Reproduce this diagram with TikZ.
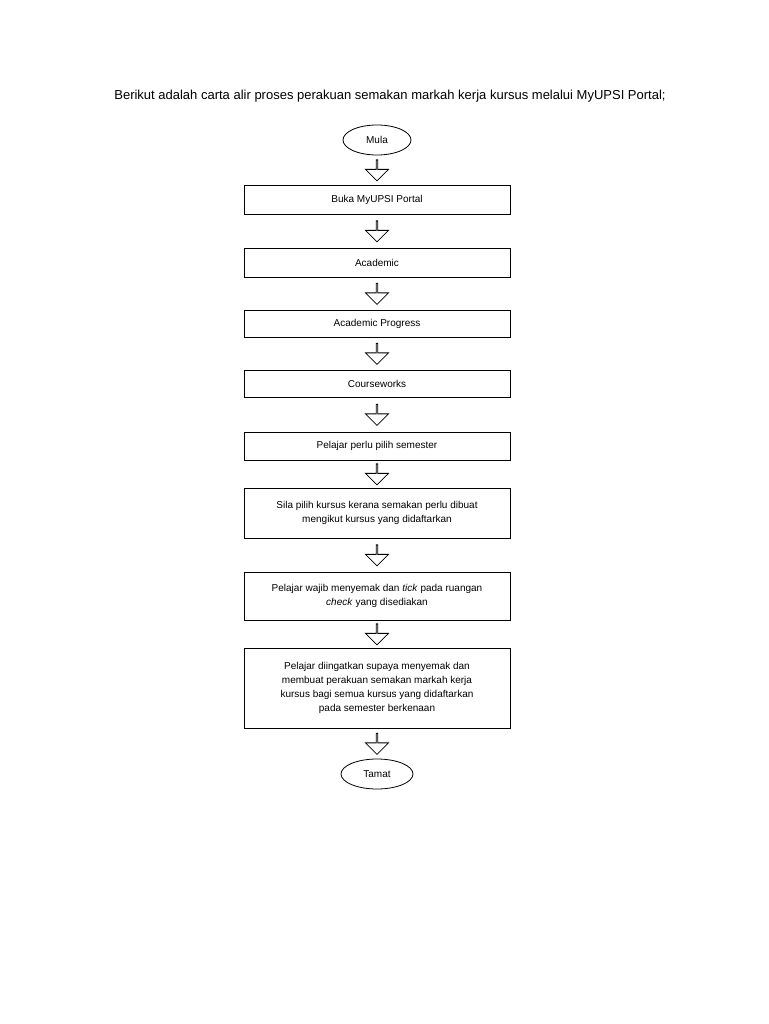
\documentclass[tikz,border=0pt]{standalone}
\usepackage{fontspec}
\setmainfont{Liberation Sans}
\usetikzlibrary{shapes.geometric,shapes.arrows}
\begin{document}
\begin{tikzpicture}[x=1pt,y=-1pt,
  box/.style={draw,thick,minimum width=266pt,align=center,font=\fontsize{10}{14}\selectfont,inner sep=2pt},
  term/.style={draw,thick,ellipse,minimum width=68pt,minimum height=30pt,font=\fontsize{10}{12}\selectfont},
  barr/.style={draw,thick,fill=white,single arrow,shape border rotate=270,minimum height=21pt,minimum width=23pt,single arrow head extend=6pt,inner sep=0pt,anchor=center}]
\useasboundingbox (0,0) rectangle (768,1024);
\node[font=\fontsize{13}{15}\selectfont] (title) at (390,96) {Berikut adalah carta alir proses perakuan semakan markah kerja kursus melalui MyUPSI Portal;};
\node[term] (mula) at (377,140) {Mula};
\node[box,minimum height=29pt] (b1) at (377,199.5) {Buka MyUPSI Portal};
\node[box,minimum height=29pt] (b2) at (377,262.5) {Academic};
\node[box,minimum height=27pt] (b3) at (377,323.5) {Academic Progress};
\node[box,minimum height=27pt] (b4) at (377,383.5) {Courseworks};
\node[box,minimum height=28pt] (b5) at (377,446) {Pelajar perlu pilih semester};
\node[box,minimum height=50pt] (b6) at (377,513) {Sila pilih kursus kerana semakan perlu dibuat\\mengikut kursus yang didaftarkan};
\node[box,minimum height=48pt] (b7) at (377,596) {Pelajar wajib menyemak dan \textit{tick} pada ruangan\\\textit{check} yang disediakan};
\node[box,minimum height=80pt] (b8) at (377,688) {Pelajar diingatkan supaya menyemak dan\\membuat perakuan semakan markah kerja\\kursus bagi semua kursus yang didaftarkan\\pada semester berkenaan};
\node[term,minimum width=72pt] (tamat) at (377,774) {Tamat};
\foreach \a/\b in {mula/b1,b1/b2,b2/b3,b3/b4,b4/b5,b5/b6,b6/b7,b7/b8,b8/tamat}
  \path (\a.south) -- (\b.north) node[midway,barr] {};
\end{tikzpicture}
\end{document}
